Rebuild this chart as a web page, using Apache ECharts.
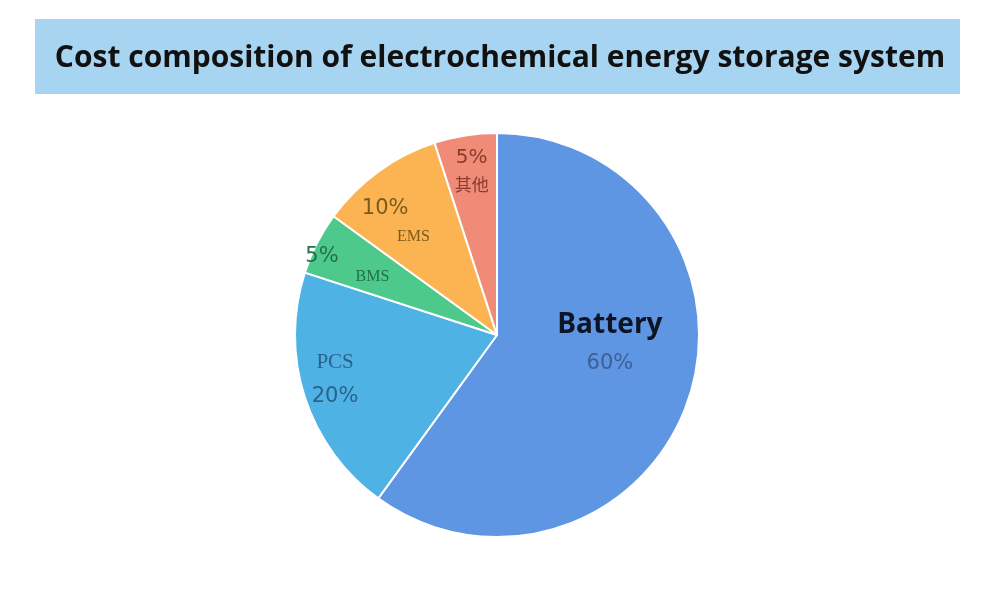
<!DOCTYPE html>
<html>
<head>
<meta charset="utf-8">
<script src="https://cdn.jsdelivr.net/npm/echarts@6/dist/echarts.min.js"></script>
<style>
  html, body { margin: 0; padding: 0; background: #fff; }
  #chart { width: 1000px; height: 599px; }
</style>
</head>
<body>
<div id="chart"></div>
<script>
// 数据
var categories = ['Battery', 'PCS', 'BMS', 'EMS', '其他'];
var shares = [60, 20, 5, 10, 5];
var sliceColors = ['#5f96e3', '#4fb2e4', '#4dca8b', '#fcb452', '#ef8b77'];

// 标签位置微调(相对默认内部位置)
var labelShift = [[14, -24], [-63, 12], [-57, -21], [-40, -28], [-9, -61]];

var pctFont = '"DejaVu Sans", sans-serif';
var nameFont = '"Liberation Serif", serif';

function labelFor(i) {
    var pct = shares[i] + '%';
    switch (i) {
        case 0:
            return '{b|' + categories[i] + '}\n{p0|' + pct + '}';
        case 1:
            return '{n1|' + categories[i] + '}\n{p1|' + pct + '}';
        case 2:
            return '{p2|' + pct + '}\n{n2|' + categories[i] + '}';
        case 3:
            return '{p3|' + pct + '}\n{n3|' + categories[i] + '}';
        default:
            return '{p4|' + pct + '}\n{n4|' + categories[i] + '}';
    }
}

var pieData = [];
for (var i = 0; i < categories.length; i++) {
    pieData.push({
        name: categories[i],
        value: shares[i],
        itemStyle: { color: sliceColors[i] }
    });
}

var chart = echarts.init(document.getElementById('chart'));
var option = {
    backgroundColor: '#fff',
    animation: false,
    graphic: [{
        type: 'rect',
        left: 35,
        top: 19,
        shape: { width: 925, height: 75 },
        style: { fill: '#a7d4f1' },
        z: 0
    }],
    title: {
        text: 'Cost composition of electrochemical energy storage system',
        left: 'center',
        top: 38,
        textStyle: {
            fontFamily: '"Open Sans", sans-serif',
            fontWeight: 'bold',
            fontSize: 30,
            color: '#111'
        },
        z: 5
    },
    series: [{
        type: 'pie',
        center: [497, 335],
        radius: [0, 202],
        startAngle: 90,
        clockwise: true,
        avoidLabelOverlap: false,
        itemStyle: { borderColor: '#fff', borderWidth: 2 },
        label: {
            show: true,
            position: 'inside',
            formatter: function (p) { return labelFor(p.dataIndex); },
            rich: {
                b: { fontFamily: '"Open Sans", sans-serif', fontWeight: 'bold', fontSize: 28, color: '#0d1424', lineHeight: 40 },
                p0: { fontFamily: pctFont, fontSize: 21, color: '#3e5f92', lineHeight: 36 },
                n1: { fontFamily: nameFont, fontSize: 21, color: '#2b628c', lineHeight: 34 },
                p1: { fontFamily: pctFont, fontSize: 21, color: '#2b628c', lineHeight: 34 },
                p2: { fontFamily: pctFont, fontSize: 21, color: '#22704a', lineHeight: 20, width: 84, align: 'left' },
                n2: { fontFamily: nameFont, fontSize: 16, color: '#22704a', lineHeight: 20, width: 84, align: 'right' },
                p3: { fontFamily: pctFont, fontSize: 21, color: '#7a5b1e', lineHeight: 28, width: 68, align: 'left' },
                n3: { fontFamily: nameFont, fontSize: 16, color: '#7a5b1e', lineHeight: 28, width: 68, align: 'right' },
                p4: { fontFamily: pctFont, fontSize: 20, color: '#8c3b2f', lineHeight: 27 },
                n4: { fontFamily: '"Noto Sans CJK SC", sans-serif', fontSize: 17, color: '#8c3b2f', lineHeight: 27 }
            }
        },
        labelLine: { show: false },
        labelLayout: function (params) {
            var s = labelShift[params.dataIndex];
            return { dx: s[0], dy: s[1] };
        },
        data: pieData
    }]
};
chart.setOption(option);
</script>
</body>
</html>
